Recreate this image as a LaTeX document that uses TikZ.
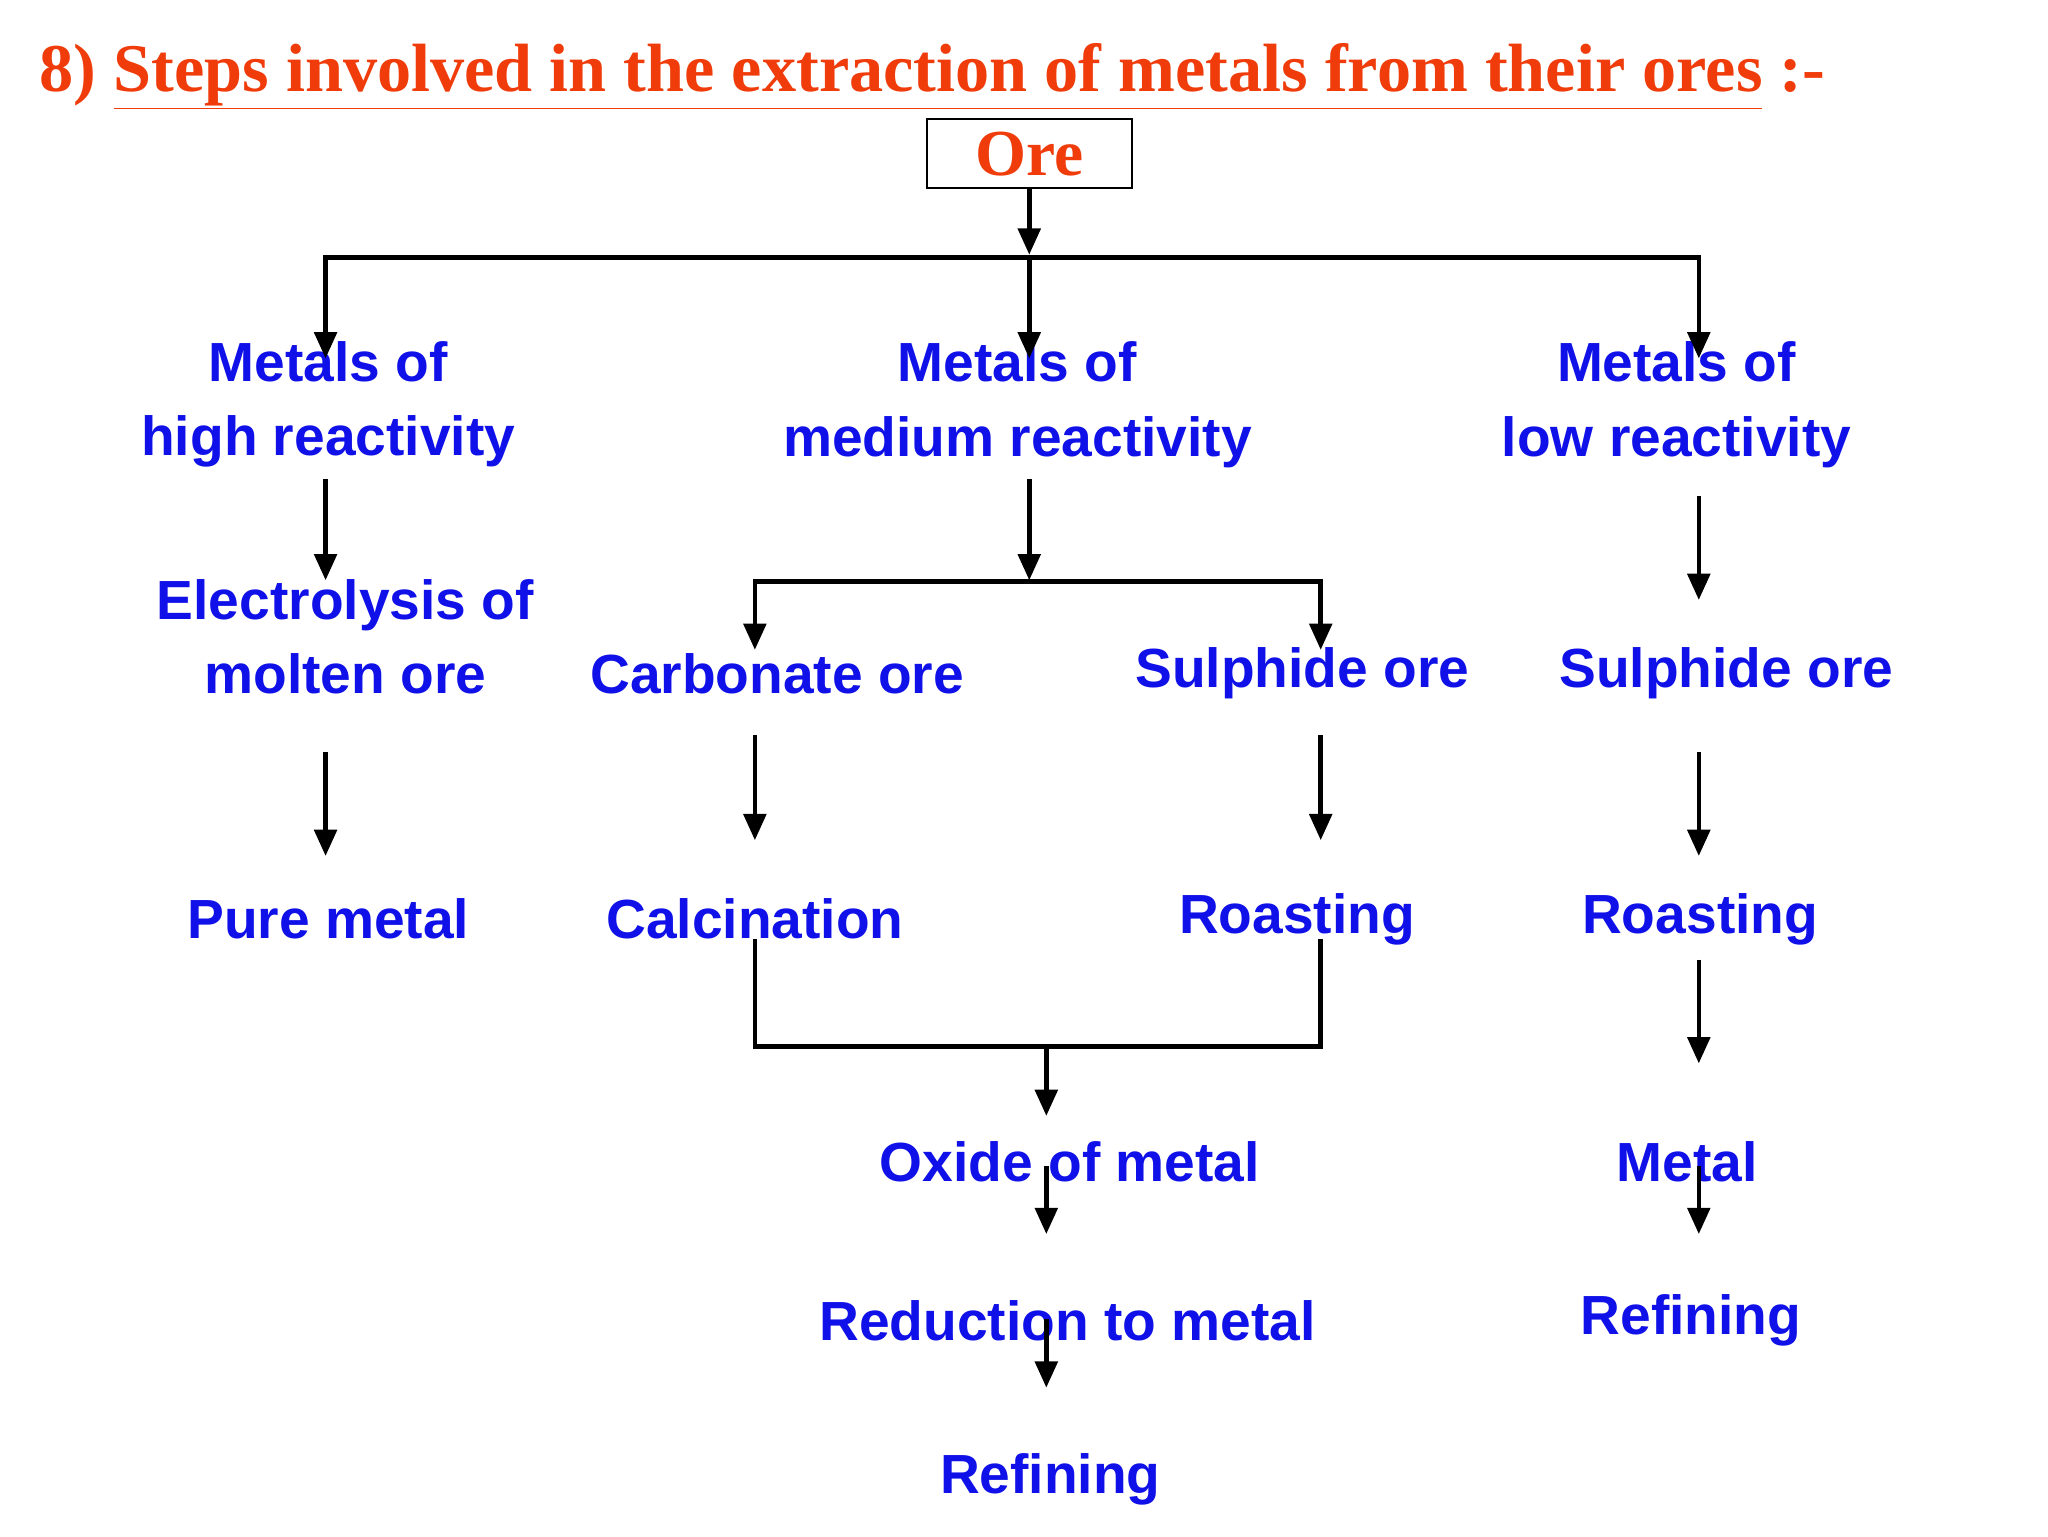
\documentclass[tikz,border=0pt]{standalone}
\usepackage{fontspec}
\setmainfont{Liberation Serif}
\newfontfamily\arialf{Liberation Sans}
\usetikzlibrary{arrows.meta}
\definecolor{tred}{HTML}{F03C0A}
\definecolor{tblue}{HTML}{1010E8}
\begin{document}
\begin{tikzpicture}[x=1pt,y=-1pt,
  lbl/.style={text=tblue,font=\arialf\bfseries\fontsize{42}{57}\selectfont,align=center,inner sep=0},
  ln/.style={line width=3.5pt,line cap=rect},
  ar/.style={line width=3.5pt,-{Triangle[length=20pt,width=17pt]}}]
\useasboundingbox[fill=white] (0,0) rectangle (1560,1170);
\node[anchor=base west,text=tred,font=\bfseries\fontsize{52}{60}\selectfont,inner sep=0] (title) at (30,70)
 {8) \underline{Steps involved in the extraction of metals from their ores} :-};
\node[draw,line width=1.5pt,minimum width=156pt,minimum height=52pt,text=tred,font=\bfseries\fontsize{50}{60}\selectfont,inner sep=0] (ore) at (784,117) {Ore};
\node[lbl] (high) at (250,308) {Metals of\\high reactivity};
\node[lbl] (med) at (775,308) {Metals of\\medium reactivity};
\node[lbl] (low) at (1277,308) {Metals of\\low reactivity};
\node[lbl] (elec) at (263,485) {Electrolysis of\\molten ore};
\node[lbl] (carb) at (592,513) {Carbonate ore};
\node[lbl] (sul1) at (992,513) {Sulphide ore};
\node[lbl] (sul2) at (1315,513) {Sulphide ore};
\node[lbl] (pure) at (250,700) {Pure metal};
\node[lbl] (calc) at (575,700) {Calcination};
\node[lbl] (roa1) at (988,700) {Roasting};
\node[lbl] (roa2) at (1295,700) {Roasting};
\node[lbl] (oxide) at (815,885) {Oxide of metal};
\node[lbl] (metal) at (1285,885) {Metal};
\node[lbl] (red) at (813,1006) {Reduction to metal};
\node[lbl] (ref2) at (1288,1006) {Refining};
\node[lbl] (ref1) at (800,1127) {Refining};
% coordinates
\coordinate (o1) at (784,143); \coordinate (o2) at (784,196);
\draw[ar] (o1) -- (784,194);
\draw[ln] (248,196) -- (1294,196);
\foreach \x in {248,784,1294} \draw[ar] (\x,196) -- (\x,273);
\draw[ar] (248,365) -- (248,442);
\draw[ar] (784,365) -- (784,442);
\draw[ln] (575,443) -- (1006,443);
\draw[ar] (575,443) -- (575,495);
\draw[ar] (1006,443) -- (1006,495);
\draw[ar] (1294,378) -- (1294,457);
\draw[ar] (248,573) -- (248,652);
\draw[ar] (575,560) -- (575,640);
\draw[ar] (1006,560) -- (1006,640);
\draw[ar] (1294,573) -- (1294,652);
\draw[ln] (575,717) -- (575,797) -- (1006,797) -- (1006,717);
\draw[ar] (797,797) -- (797,850);
\draw[ar] (1294,731) -- (1294,810);
\draw[ar] (797,888) -- (797,940);
\draw[ar] (1294,888) -- (1294,940);
\draw[ar] (797,1005) -- (797,1057);
\end{tikzpicture}
\end{document}
